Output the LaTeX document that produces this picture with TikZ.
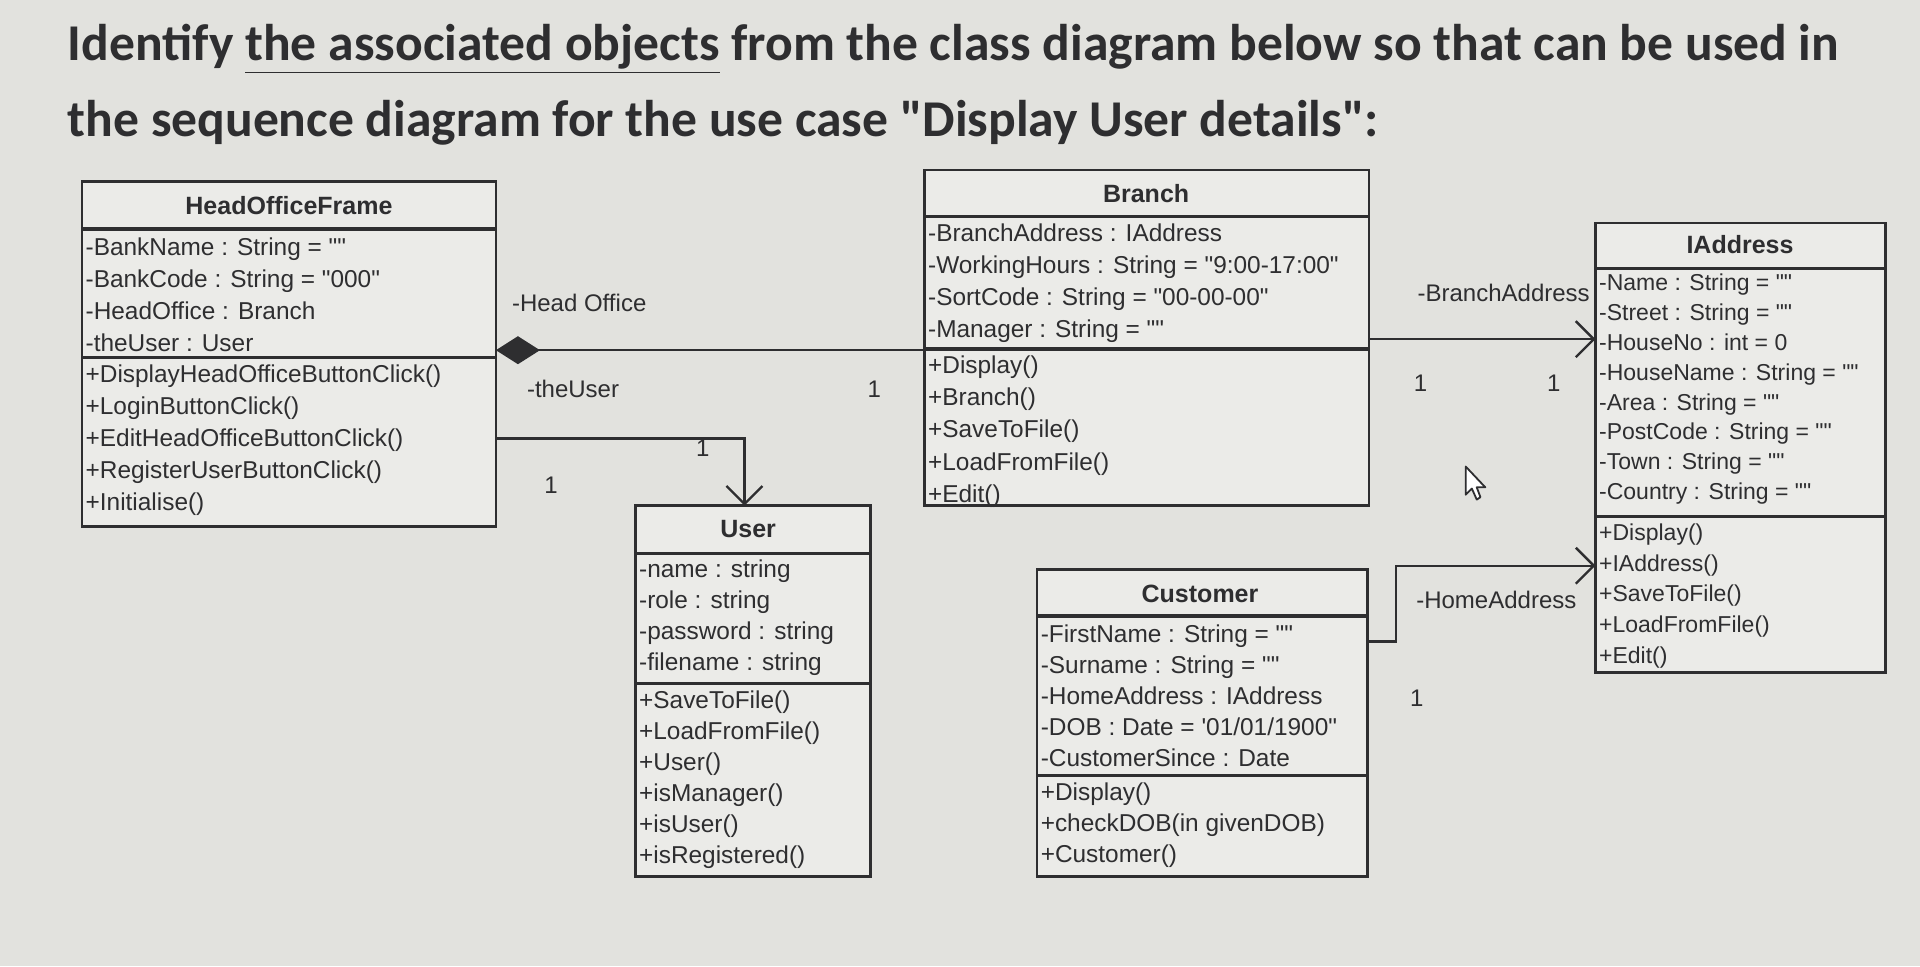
\documentclass[tikz,border=0pt]{standalone}
\usepackage{fontspec}
\setmainfont{Liberation Sans}
\newfontfamily\titlefont{Carlito}
\usetikzlibrary{arrows.meta}
\definecolor{bg}{HTML}{E2E2DE}
\definecolor{boxbg}{HTML}{EBEBE8}
\definecolor{ink}{HTML}{2E2E30}
\newcommand{\q}{{\XeTeXglyph\XeTeXcharglyph"22\relax}}
\newcommand{\sq}{{\XeTeXglyph\XeTeXcharglyph"27\relax}}
\tikzset{
 cls/.style={draw=ink,line width=1.3pt,fill=boxbg},
 sep/.style={draw=ink,line width=1.6pt},
 hdr/.style={font=\bfseries\fontsize{12.5}{14}\selectfont,text=ink},
 mem/.style={anchor=north west,align=left,inner sep=1pt,text=ink},
 lab/.style={text=ink,font=\fontsize{12}{14}\selectfont},
 assoc/.style={draw=ink,line width=1.2pt},
 opn/.style={-{Straight Barb[length=9pt,width=18pt,line width=1.2pt]}},
 ttl/.style={anchor=west,inner sep=0,text=ink,font=\titlefont\bfseries\fontsize{25.8}{30}\selectfont},
}
\newcommand{\memfont}[1]{\fontsize{12.2}{#1}\selectfont}
\begin{document}
\begin{tikzpicture}[x=0.612pt,y=-0.612pt]
\fill[bg] (0,0) rectangle (1568,789);
\useasboundingbox (0,0) rectangle (1568,789);
% title
\node[ttl] (t1) at (55,40)
 {Identify \underline{the associated objects} from the class diagram below so that can be used in};
\node[ttl] (t2) at (55,100)
 {the sequence diagram for the use case \q Display User details\q:};
% HeadOfficeFrame
\path[cls] (67,148) rectangle (405,430);
\draw[sep] (67,187)--(405,187); \draw[sep] (67,292)--(405,292);
\node[hdr] (hofh) at (236,168) {HeadOfficeFrame};
\node[mem,font=\memfont{16}] (hofa) at (68,192) {-BankName : String = \q\q\\-BankCode : String = \q000\q\\-HeadOffice : Branch\\-theUser : User};
\node[mem,font=\memfont{16}] (hofm) at (68,296) {+DisplayHeadOfficeButtonClick()\\+LoginButtonClick()\\+EditHeadOfficeButtonClick()\\+RegisterUserButtonClick()\\+Initialise()};
\coordinate (hof1) at (405,286);
\coordinate (hof2) at (405,358);
% Branch
\path[cls] (755,139) rectangle (1118,413);
\draw[sep] (755,177)--(1118,177); \draw[sep] (755,285)--(1118,285);
\node[hdr] (brh) at (936,158) {Branch};
\node[mem,font=\memfont{16}] (bra) at (756,181) {-BranchAddress : IAddress\\-WorkingHours : String = \q9:00-17:00\q\\-SortCode : String = \q00-00-00\q\\-Manager : String = \q\q};
\node[mem,font=\memfont{16}] (brm) at (756,289) {+Display()\\+Branch()\\+SaveToFile()\\+LoadFromFile()\\+Edit()};
\coordinate (br1) at (755,286);
\coordinate (br2) at (1118,277);
% IAddress
\path[cls] (1303,182) rectangle (1540,549);
\draw[sep] (1303,219)--(1540,219); \draw[sep] (1303,422)--(1540,422);
\node[hdr] (iah) at (1421,200) {IAddress};
\node[mem,font=\fontsize{11.5}{14.9}\selectfont] (iaa) at (1304,222) {-Name : String = \q\q\\-Street : String = \q\q\\-HouseNo : int = 0\\-HouseName : String = \q\q\\-Area : String = \q\q\\-PostCode : String = \q\q\\-Town : String = \q\q\\-Country : String = \q\q};
\node[mem,font=\fontsize{11.5}{15.3}\selectfont] (iam) at (1304,426) {+Display()\\+IAddress()\\+SaveToFile()\\+LoadFromFile()\\+Edit()};
\coordinate (ia1) at (1303,277);
\coordinate (ia2) at (1303,462);
% User
\path[cls] (519,413) rectangle (711,716);
\draw[sep] (519,452)--(711,452); \draw[sep] (519,558)--(711,558);
\node[hdr] (ush) at (611,432) {User};
\node[mem,font=\memfont{15.5}] (usa) at (520,455) {-name : string\\-role : string\\-password : string\\-filename : string};
\node[mem,font=\memfont{15.5}] (usm) at (520,562) {+SaveToFile()\\+LoadFromFile()\\+User()\\+isManager()\\+isUser()\\+isRegistered()};
\coordinate (us1) at (608,413);
% Customer
\path[cls] (847,465) rectangle (1117,716);
\draw[sep] (847,503)--(1117,503); \draw[sep] (847,633)--(1117,633);
\node[hdr] (cuh) at (980,485) {Customer};
\node[mem,font=\memfont{15.5}] (cua) at (848,508) {-FirstName : String = \q\q\\-Surname : String = \q\q\\-HomeAddress : IAddress\\-DOB : Date = \sq01/01/1900\q\\-CustomerSince : Date};
\node[mem,font=\memfont{15.5}] (cum) at (848,637) {+Display()\\+checkDOB(in givenDOB)\\+Customer()};
\coordinate (cu1) at (1117,524);
% associations
\draw[assoc,opn,{Diamond[length=22pt,width=14pt,fill=ink]}-] (hof1) -- (br1);
\draw[assoc,opn] (hof2) -- (608,358) -- (us1);
\draw[assoc,opn] (br2) -- (ia1);
\draw[assoc,opn] (cu1) -- (1140,524) -- (1140,462) -- (ia2);
% labels
\node[lab] (l1) at (473,247) {-Head Office};
\node[lab] (l2) at (468,318) {-theUser};
\node[lab] (l3) at (714,318) {1};
\node[lab] (l4) at (450,396) {1};
\node[lab] (l5) at (574,366) {1};
\node[lab] (l6) at (1228,239) {-BranchAddress};
\node[lab] (l7) at (1160,313) {1};
\node[lab] (l8) at (1269,313) {1};
\node[lab] (l9) at (1222,490) {-HomeAddress};
\node[lab] (l10) at (1157,570) {1};
% cursor
\draw[ink,line width=0.9pt,fill=white,line join=round] (1197,381) -- (1197,404) -- (1202,399) -- (1206,408) -- (1209,406) -- (1206,398) -- (1213,398) -- cycle;
\end{tikzpicture}
\end{document}
